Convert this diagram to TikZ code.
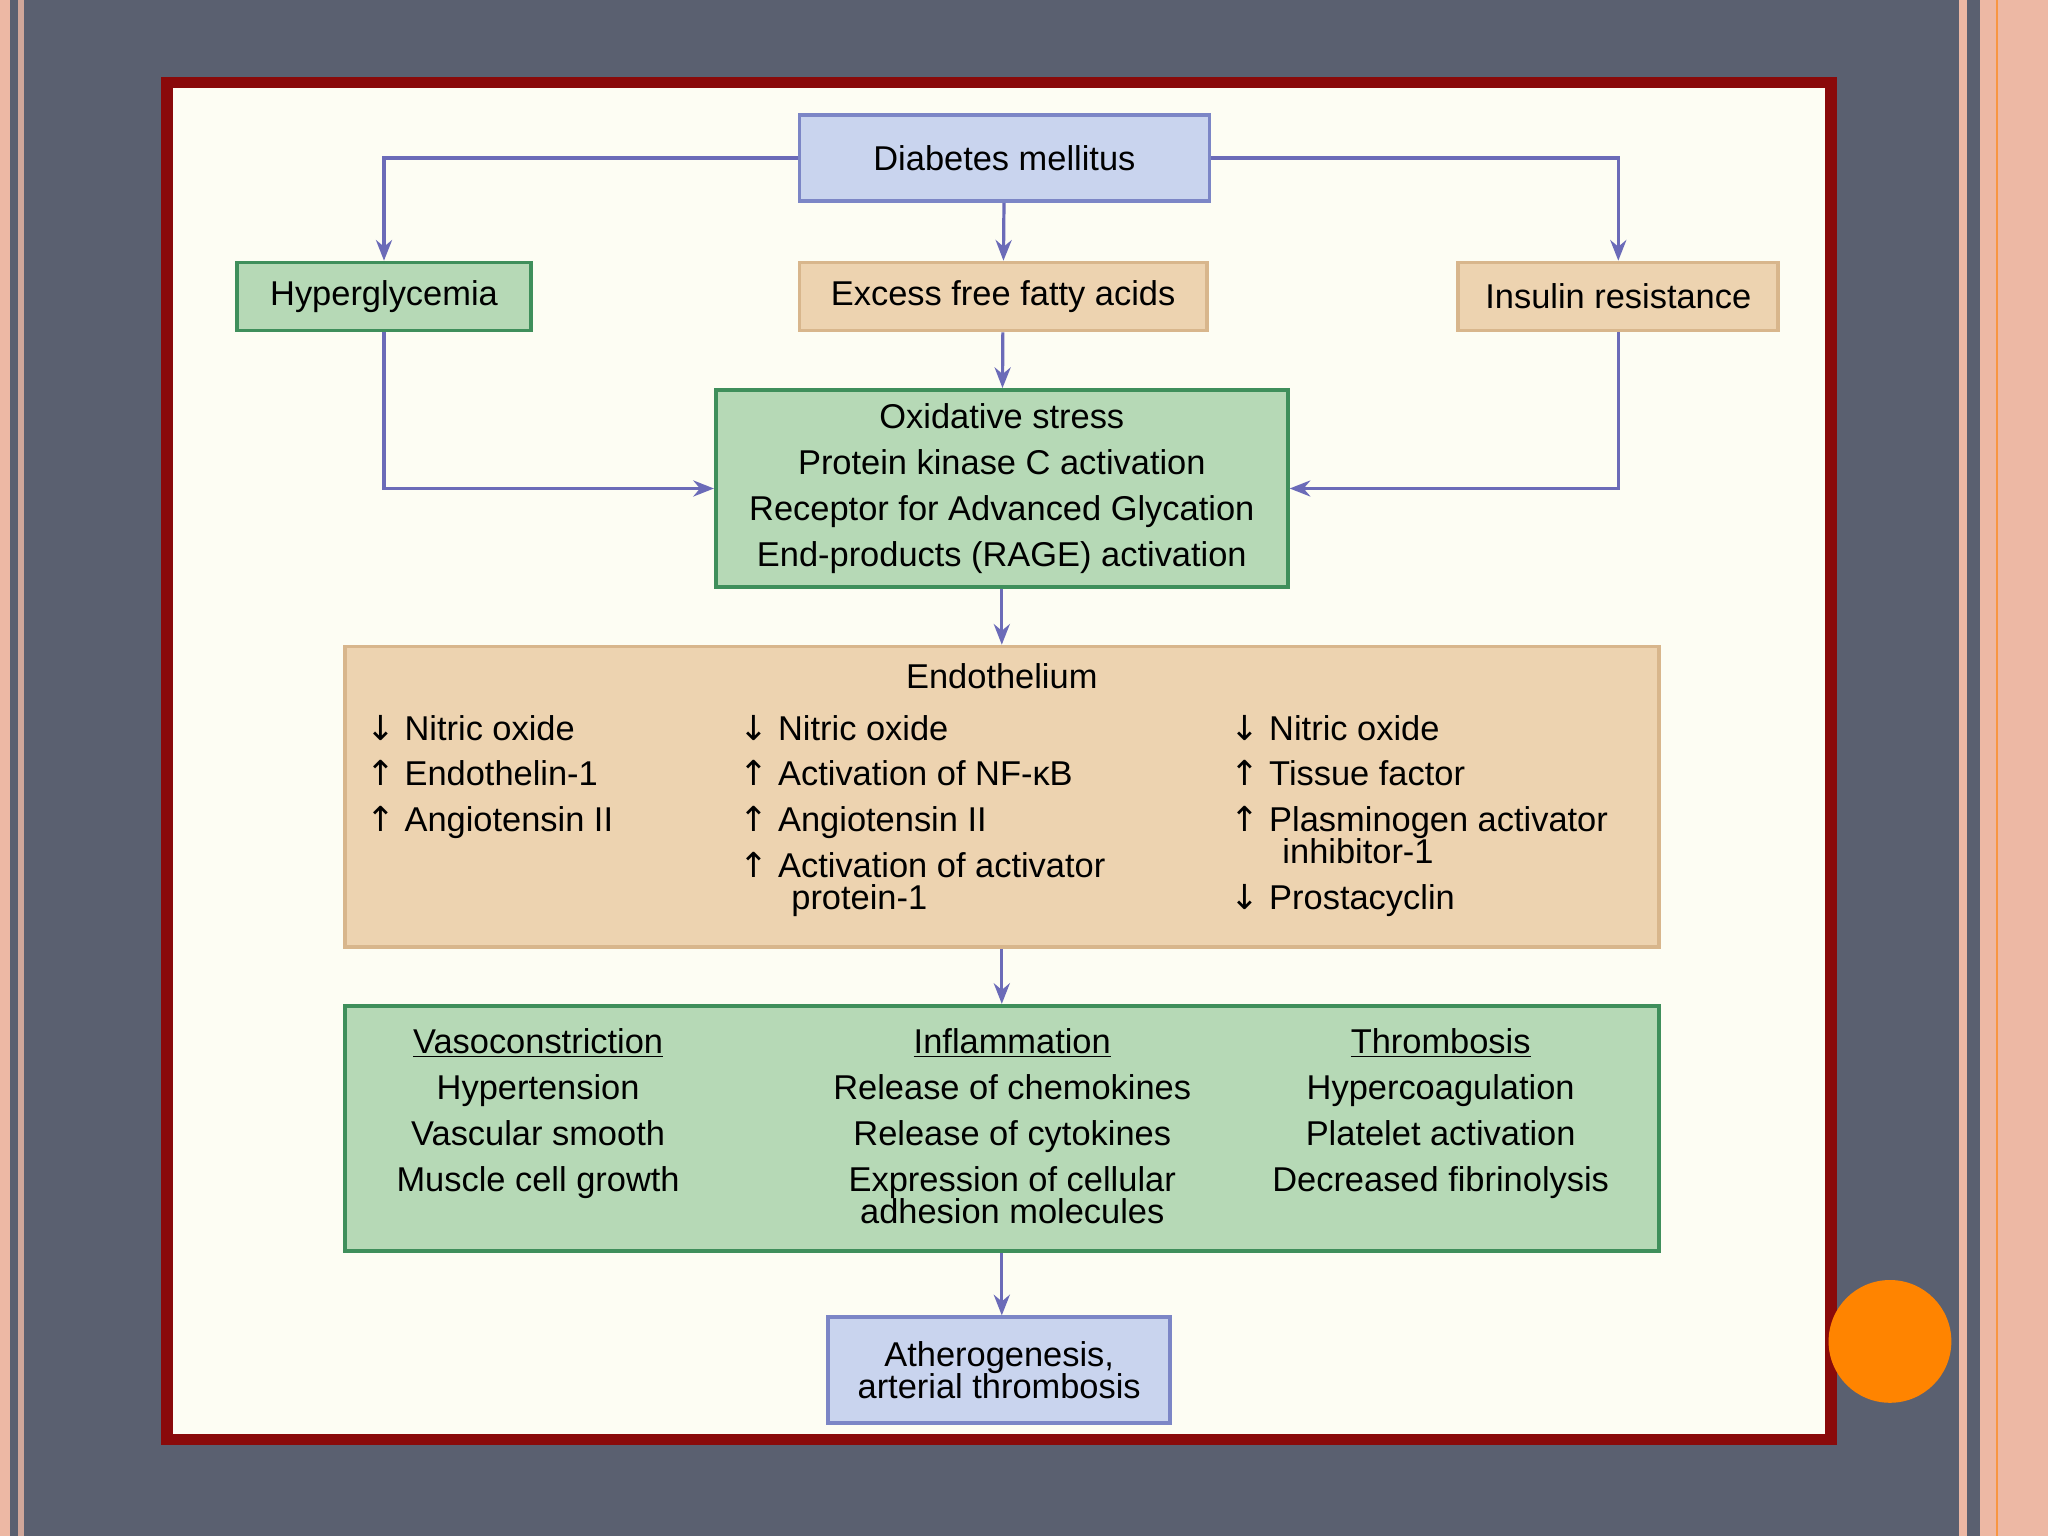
\documentclass[tikz,border=0pt]{standalone}
\usepackage{fontspec}
\setmainfont{Liberation Sans}
\newfontfamily\symfont{DejaVu Sans}
\usetikzlibrary{arrows.meta,positioning}
\newcommand{\ua}{{\symfont\char"2191}}
\newcommand{\da}{{\symfont\char"2193}}
\definecolor{slate}{HTML}{5A6070}
\definecolor{salmon}{HTML}{EDB8A4}
\definecolor{cream}{HTML}{FDFDF3}
\definecolor{frame}{HTML}{8A0A0A}
\definecolor{bluefill}{HTML}{C9D4EE}
\definecolor{blueline}{HTML}{7C86C6}
\definecolor{greenfill}{HTML}{B6D9B6}
\definecolor{greenline}{HTML}{3F8F5B}
\definecolor{tanfill}{HTML}{EDD3B0}
\definecolor{tanline}{HTML}{D8B68C}
\definecolor{arrowcol}{HTML}{6B6BB8}
\tikzset{
    box/.style={draw, line width=1.6pt, inner sep=0pt, font=\fontsize{15}{20}\selectfont},
    bluebox/.style={box, fill=bluefill, draw=blueline},
    greenbox/.style={box, fill=greenfill, draw=greenline},
    tanbox/.style={box, fill=tanfill, draw=tanline},
    txt/.style={font=\fontsize{15}{20}\selectfont, inner sep=0pt},
    link/.style={draw=arrowcol, line width=1.4pt, -{Stealth[length=9pt,width=7pt]}}
}
\begin{document}
\begin{tikzpicture}[x=0.02cm,y=-0.02cm]
    % Fond
    \fill[slate] (0,0) rectangle (1568,1176);
    \fill[salmon] (0,0) rectangle (8,1176);
    \fill[salmon!80!slate] (14,0) rectangle (18,1176);
    \fill[salmon] (1500,0) rectangle (1506,1176);
    \fill[salmon] (1516,0) rectangle (1568,1176);
    \fill[orange!60!salmon] (1528,0) rectangle (1530,1176);
    \useasboundingbox (0,0) rectangle (1568,1176);

    % Cadre
    \draw[frame, line width=5pt, fill=cream] (128,63) rectangle (1402,1102);
    \fill[orange!85!yellow!90!red] (1447,1027) circle (47);

    % Boites
    \node[bluebox, minimum width=314*0.02cm, minimum height=66*0.02cm] (dm) at (769,121) {Diabetes mellitus};
    \node[greenbox, minimum width=225*0.02cm, minimum height=52*0.02cm] (hyper) at (294,227) {Hyperglycemia};
    \node[tanbox, minimum width=312*0.02cm, minimum height=52*0.02cm] (ffa) at (768,227) {Excess free fatty acids};
    \node[tanbox, minimum width=245*0.02cm, minimum height=52*0.02cm] (ir) at (1239,227) {Insulin resistance};
    \node[greenbox, minimum width=438*0.02cm, minimum height=151*0.02cm, align=center] (ox) at (767,374)
        {Oxidative stress\\ Protein kinase C activation\\ Receptor for Advanced Glycation\\ End-products (RAGE) activation};
    \node[tanbox, minimum width=1006*0.02cm, minimum height=230*0.02cm] (endo) at (767,610) {};
    \node[greenbox, minimum width=1006*0.02cm, minimum height=188*0.02cm] (eff) at (767,864) {};
    \node[bluebox, minimum width=262*0.02cm, minimum height=81*0.02cm, align=center] (ath) at (765,1049)
        {Atherogenesis,\\[-6pt] arterial thrombosis};

    % Endothelium
    \node[txt] (endot) at (767,518) {Endothelium};
    \node[txt, align=left, anchor=north west] (endoa) at (280,547)
        {\da\ Nitric oxide\\ \ua\ Endothelin-1\\ \ua\ Angiotensin II};
    \node[txt, align=left, anchor=north west] (endob) at (566,547)
        {\da\ Nitric oxide\\ \ua\ Activation of NF-κB\\ \ua\ Angiotensin II\\ \ua\ Activation of activator\\[-6pt] \hspace*{1.5em}protein-1};
    \node[txt, align=left, anchor=north west] (endoc) at (942,547)
        {\da\ Nitric oxide\\ \ua\ Tissue factor\\ \ua\ Plasminogen activator\\[-6pt] \hspace*{1.5em}inhibitor-1\\ \da\ Prostacyclin};

    % Effets
    \node[txt, align=center, anchor=north] (effa) at (412,787)
        {\underline{Vasoconstriction}\\ Hypertension\\ Vascular smooth\\ Muscle cell growth};
    \node[txt, align=center, anchor=north] (effb) at (775,787)
        {\underline{Inflammation}\\ Release of chemokines\\ Release of cytokines\\ Expression of cellular\\[-6pt] adhesion molecules};
    \node[txt, align=center, anchor=north] (effc) at (1103,787)
        {\underline{Thrombosis}\\ Hypercoagulation\\ Platelet activation\\ Decreased fibrinolysis};

    % Fleches
    \draw[link] (dm.west) -| (hyper.north);
    \draw[link] (dm.east) -| (ir.north);
    \draw[link] (dm) -- (ffa);
    \draw[link] (ffa) -- (ox);
    \draw[link] (hyper.south) |- (ox.west);
    \draw[link] (ir.south) |- (ox.east);
    \draw[link] (ox) -- (endo);
    \draw[link] (endo) -- (eff);
    \draw[link] (eff.south) -- (eff.south |- ath.north);
\end{tikzpicture}
\end{document}
